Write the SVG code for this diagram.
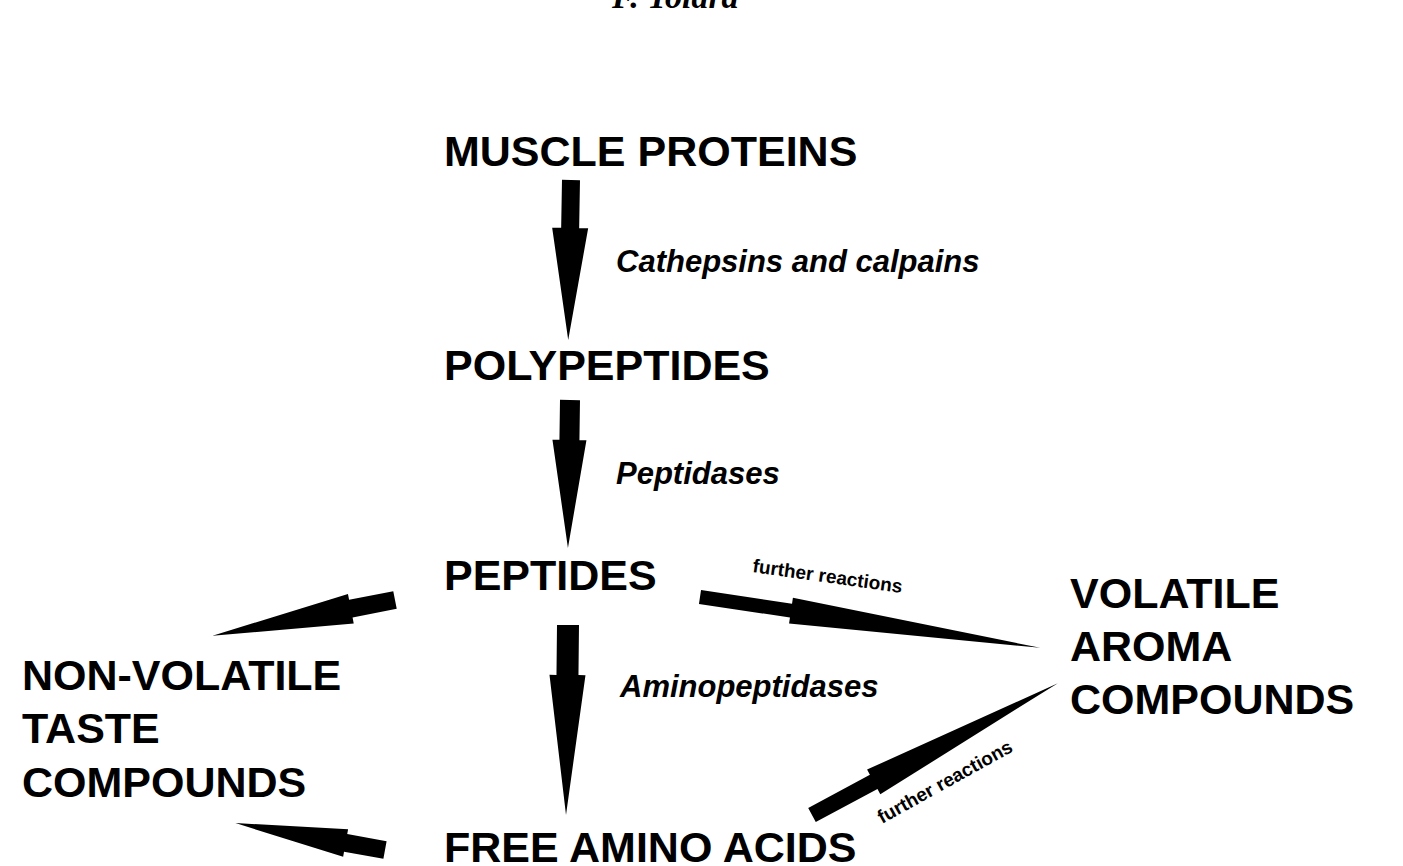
<svg xmlns="http://www.w3.org/2000/svg" width="1403" height="866" viewBox="0 0 1403 866">
<style>
.n{font-family:"Liberation Sans",Arial,sans-serif;font-weight:bold;font-size:43px;fill:#000}
.l{font-family:"Liberation Sans",Arial,sans-serif;font-weight:bold;font-style:italic;font-size:31px;fill:#000}
.s{font-family:"Liberation Sans",Arial,sans-serif;font-weight:bold;font-size:19px;fill:#000}
.a{fill:#000}
</style>
<rect width="1403" height="866" fill="#fff"/>
<text x="612" y="8" font-family="Liberation Serif,serif" font-style="italic" font-weight="bold" font-size="34">F. Toldrá</text>
<g id="muscle"><text class="n" x="444" y="166">MUSCLE PROTEINS</text></g>
<g id="poly"><text class="n" x="444" y="380">POLYPEPTIDES</text></g>
<g id="pept"><text class="n" x="444" y="590">PEPTIDES</text></g>
<g id="faa"><text class="n" x="444" y="862">FREE AMINO ACIDS</text></g>
<g id="nonvol"><text class="n" x="22" y="690">NON-VOLATILE</text><text class="n" x="22" y="743">TASTE</text><text class="n" x="22" y="797">COMPOUNDS</text></g>
<g id="vol"><text class="n" x="1070" y="608">VOLATILE</text><text class="n" x="1070" y="661">AROMA</text><text class="n" x="1070" y="714">COMPOUNDS</text></g>
<g id="connectors">
<polygon class="a" transform="translate(571,180) rotate(91)" points="0,-9 48,-9 48,-18 160,0 48,18 48,9 0,9"/>
<polygon class="a" transform="translate(570,400) rotate(90.8)" points="0,-10 40,-10 40,-17 148,0 40,17 40,10 0,10"/>
<polygon class="a" transform="translate(568,625) rotate(90.6)" points="0,-11 50,-11 50,-18 190,0 50,18 50,11 0,11"/>
<polygon class="a" transform="translate(395,600) rotate(168.9)" points="0,-9 45,-9 45,-15 186,0 45,15 45,9 0,9"/>
<polygon class="a" transform="translate(385,850) rotate(190.2)" points="0,-9 40,-9 40,-14 152,0 40,14 40,9 0,9"/>
<polygon class="a" transform="translate(700,597) rotate(8.5)" points="0,-7 92,-7 92,-13 344,0 92,13 92,7 0,7"/>
<polygon class="a" transform="translate(812,815) rotate(-28.2)" points="0,-8 70,-8 70,-14 279,0 70,14 70,8 0,8"/>
<text class="l" x="616" y="272">Cathepsins and calpains</text>
<text class="l" x="616" y="484">Peptidases</text>
<text class="l" x="620" y="697">Aminopeptidases</text>
<text class="s" transform="translate(752,572) rotate(8)">further reactions</text>
<text class="s" transform="translate(882,824) rotate(-29)">further reactions</text>
</g>
</svg>
